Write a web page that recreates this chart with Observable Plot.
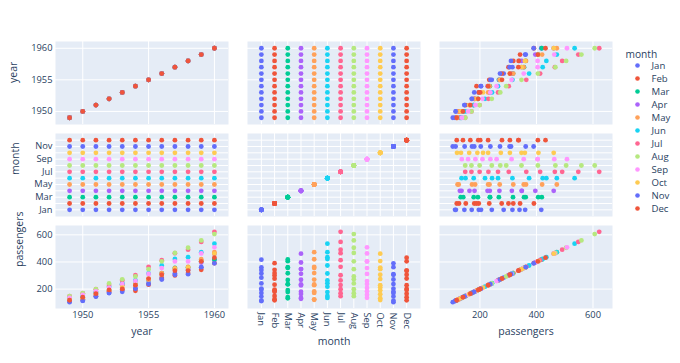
<!DOCTYPE html>
<html><head><meta charset="utf-8">
<script src="https://cdn.jsdelivr.net/npm/d3@7"></script>
<script src="https://cdn.jsdelivr.net/npm/@observablehq/plot@0.6"></script>
<style>
html,body{margin:0;padding:0;background:#fff;overflow:hidden;}
#chart{position:relative;width:680px;height:363px;font-family:"Open Sans",sans-serif;}
#chart svg{position:absolute;left:0;top:0;}
</style></head><body><div id="chart"></div>
<script>
const months = ["Jan","Feb","Mar","Apr","May","Jun","Jul","Aug","Sep","Oct","Nov","Dec"];
const years = [1949,1950,1951,1952,1953,1954,1955,1956,1957,1958,1959,1960];
// passengers per year (rows) and month (columns)
const passengersByYear = [
  [112,118,132,129,121,135,148,148,136,119,104,118],
  [115,126,141,135,125,149,170,170,158,133,114,140],
  [145,150,178,163,172,178,199,199,184,162,146,166],
  [171,180,193,181,183,218,230,242,209,191,172,194],
  [196,196,236,235,229,243,264,272,237,211,180,201],
  [204,188,235,227,234,264,302,293,259,229,203,229],
  [242,233,267,269,270,315,364,347,312,274,237,278],
  [284,277,317,313,318,374,413,405,355,306,271,306],
  [315,301,356,348,355,422,465,467,404,347,305,336],
  [340,318,362,348,363,435,491,505,404,359,310,337],
  [360,342,406,396,420,472,548,559,463,407,362,405],
  [417,391,419,461,472,535,622,606,508,461,390,432]
];
const palette = ["#636efa","#EF553B","#00cc96","#ab63fa","#FFA15A","#19d3f3","#FF6692","#B6E880","#FF97FF","#FECB52","#636efa","#EF553B"];
const yearTicks = [1950,1955,1960];
const passengerTicks = [200,400,600];
const monthTicksY = [0,2,4,6,8,10];
const monthTicksX = [0,1,2,3,4,5,6,7,8,9,10,11];
const dimensions = ["year","month","passengers"];

// rows: one per (month, year); drawn month by month so Dec is on top
const data = [];
months.forEach((m, mi) => years.forEach((y, yi) => data.push({year: y, month: mi, monthName: m, passengers: passengersByYear[yi][mi]})));

const W = 680, H = 363;
const colX = [[55,228],[247,420],[439,612]];
const rowY = [[41,124],[133,216],[225,308]];
const TXT = "#2a3f5f";
const vars = {
  year: {domain:[1947.93,1961.07], grid: yearTicks, ticksX: yearTicks, ticksY: yearTicks, fmt: d => String(d)},
  month: {domain:[-1.05,12.05], grid: monthTicksX, ticksX: monthTicksX, ticksY: monthTicksY, fmt: i => months[i]},
  passengers: {domain:[57,669], grid: passengerTicks, ticksX: passengerTicks, ticksY: passengerTicks, fmt: d => String(d)}
};
const yTitleX = {year: 13.5, month: 15.5, passengers: 19};
const xTitleY = {year: 334, month: 344.5, passengers: 334};

const chart = document.getElementById("chart");
const color = {domain: months, range: palette};

dimensions.forEach((yk, r) => {
  dimensions.forEach((xk, c) => {
    const xv = vars[xk], yv = vars[yk];
    const [x0, x1] = colX[c], [y0, y1] = rowY[r];
    const marks = [
      Plot.frame({fill: "#E5ECF6", stroke: "none"}),
      Plot.gridX(xv.grid, {stroke: "white", strokeOpacity: 1, strokeWidth: 1}),
      Plot.gridY(yv.grid, {stroke: "white", strokeOpacity: 1, strokeWidth: 1}),
      Plot.dot(data, {x: xk, y: yk, fill: "monthName", r: 2.4})
    ];
    if (c === 0) {
      marks.push(Plot.axisY(yv.ticksY, {tickSize: 0, tickPadding: 3, tickFormat: yv.fmt, fontSize: 9.3, label: null}));
      marks.push(Plot.text([yk], {text: d => d, frameAnchor: "left", dx: -(x0 - yTitleX[yk]), rotate: -90, fontSize: 10.5}));
    }
    if (r === 2) {
      if (xk === "month") {
        marks.push(Plot.axisX(xv.ticksX, {tickSize: 0, tickPadding: 4, tickRotate: 90, tickFormat: xv.fmt, fontSize: 9.3, label: null}));
      } else {
        marks.push(Plot.axisX(xv.ticksX, {tickSize: 0, tickPadding: 3, tickFormat: xv.fmt, fontSize: 9.3, label: null}));
      }
      marks.push(Plot.text([xk], {text: d => d, frameAnchor: "bottom", dy: xTitleY[xk] - y1, fontSize: 10.5}));
    }
    const svg = Plot.plot({
      width: W, height: H,
      marginLeft: x0, marginRight: W - x1, marginTop: y0, marginBottom: H - y1,
      x: {domain: xv.domain, axis: null},
      y: {domain: yv.domain, axis: null},
      color,
      style: {background: "transparent", color: TXT, fontFamily: "'Open Sans', sans-serif", fontSize: "9.3px", overflow: "visible"},
      marks
    });
    chart.appendChild(svg);
  });
});

// legend
const legend = Plot.plot({
  width: W, height: H,
  marginLeft: 637, marginRight: W - 651, marginTop: 63.7, marginBottom: H - 208.3,
  x: {domain: [0, 1], axis: null},
  y: {type: "point", domain: months, padding: 0, axis: null},
  color,
  style: {background: "transparent", color: TXT, fontFamily: "'Open Sans', sans-serif", fontSize: "9.6px", overflow: "visible"},
  marks: [
    Plot.dot(months, {x: 0, y: d => d, fill: d => d, r: 2.3}),
    Plot.text(months, {x: 1, y: d => d, text: d => d, textAnchor: "start", fontSize: 9.6}),
    Plot.text(["month"], {text: d => d, frameAnchor: "top-left", dx: -12, dy: -13.7, textAnchor: "start", fontSize: 10.2})
  ]
});
chart.appendChild(legend);
</script></body></html>
